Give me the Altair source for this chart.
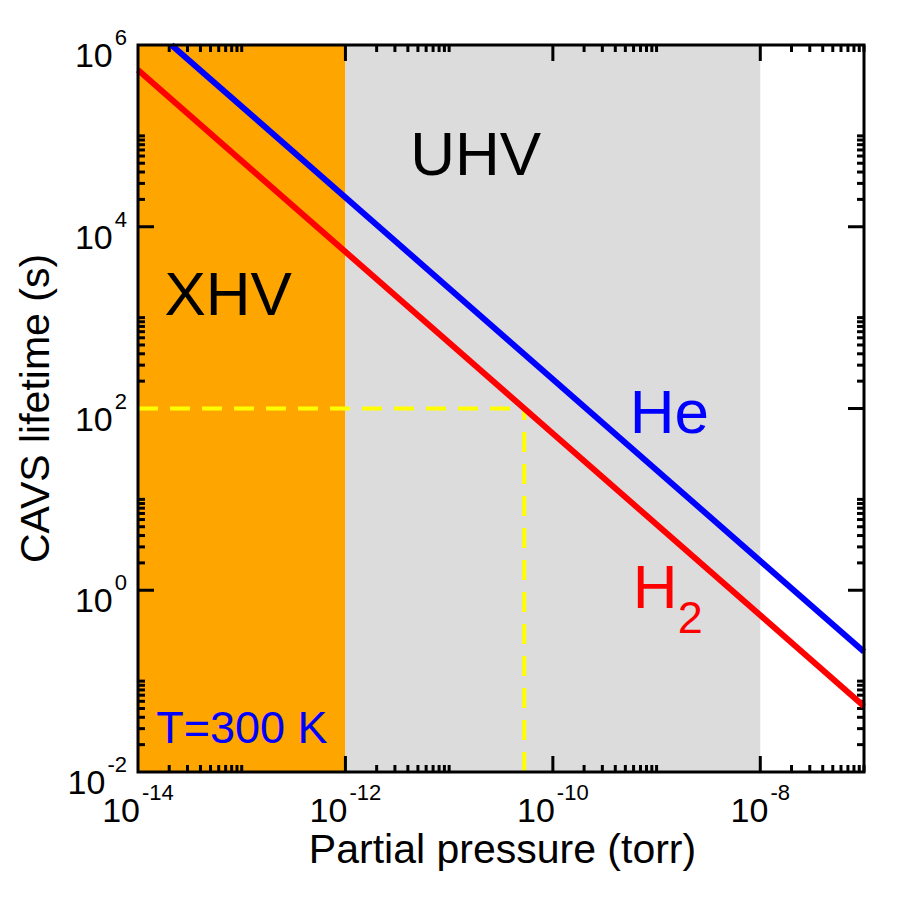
import altair as alt
import pandas as pd

FONT = "Liberation Sans"
W, H = 726, 727

# ---- data ----
p_domain = [1e-14, 1e-7]
tau_domain = [1e-2, 1e6]

he_p = [2.1e-14, 1e-7]
he_tau = [1e6, 0.21]
h2_p = [1e-14, 1e-7]
h2_tau = [5.3e5, 0.053]

xhv_range = [1e-14, 1e-12]
uhv_range = [1e-12, 1e-8]

cross_p = 5.3e-11
cross_tau = 100.0

x_major = [1e-14, 1e-12, 1e-10, 1e-8]
x_exps = ["-14", "-12", "-10", "-8"]
y_major = [1e-2, 1e0, 1e2, 1e4, 1e6]
y_exps = ["-2", "0", "2", "4", "6"]

x_minor_decades = [-14, -12, -10, -8]
y_minor_decades = [-2, 0, 2, 4]
minor_mult = [2, 3, 4, 5, 6, 7, 8, 9, 10]

# ---- scales / axes ----
xscale = alt.Scale(type="log", domain=p_domain, nice=False)
yscale = alt.Scale(type="log", domain=tau_domain, nice=False)
xaxis = alt.Axis(title="Partial pressure (torr)", labels=False, ticks=False, domain=False,
                 grid=False, titleFont=FONT, titleFontSize=41, titleFontWeight="normal",
                 titleColor="black", titleX=364, titleY=90, titleBaseline="alphabetic",
                 titleAlign="center")
yaxis = alt.Axis(title="CAVS lifetime (s)", labels=False, ticks=False, domain=False,
                 grid=False, titleFont=FONT, titleFontSize=41, titleFontWeight="normal",
                 titleColor="black", titleAngle=270, titleX=-90, titleY=363,
                 titleBaseline="alphabetic", titleAlign="center")


def X(f="p"):
    return alt.X(f"{f}:Q", scale=xscale, axis=xaxis)


def Y(f="tau"):
    return alt.Y(f"{f}:Q", scale=yscale, axis=yaxis)


layers = []

# background regions
for rng, col in [(xhv_range, "#FFA500"), (uhv_range, "#DCDCDC")]:
    df = pd.DataFrame({"p": [rng[0]], "p2": [rng[1]], "tau": [tau_domain[0]], "tau2": [tau_domain[1]]})
    layers.append(alt.Chart(df).mark_rect(color=col).encode(
        x=X(), x2="p2:Q", y=Y(), y2="tau2:Q"))

# inward ticks on all four sides
x_minor = [m * 10.0 ** k for k in x_minor_decades for m in minor_mult]
y_minor = [m * 10.0 ** k for k in y_minor_decades for m in minor_mult]
x_maj_in = [v for v in x_major if v > p_domain[0]]
y_maj_in = [v for v in y_major if tau_domain[0] < v < tau_domain[1]]
for vals, L in [(x_maj_in, 16), (x_minor, 7)]:
    df = pd.DataFrame({"p": vals})
    layers.append(alt.Chart(df).mark_rule(color="black", strokeWidth=3).encode(
        x=X(), y=alt.value(H), y2=alt.value(H - L)))
    layers.append(alt.Chart(df).mark_rule(color="black", strokeWidth=3).encode(
        x=X(), y=alt.value(0), y2=alt.value(L)))
for vals, L in [(y_maj_in, 16), (y_minor, 7)]:
    df = pd.DataFrame({"tau": vals})
    layers.append(alt.Chart(df).mark_rule(color="black", strokeWidth=3).encode(
        y=Y(), x=alt.value(0), x2=alt.value(L)))
    layers.append(alt.Chart(df).mark_rule(color="black", strokeWidth=3).encode(
        y=Y(), x=alt.value(W), x2=alt.value(W - L)))

# dashed guide lines
hdf = pd.DataFrame({"p": [p_domain[0]], "p2": [cross_p], "tau": [cross_tau]})
vdf = pd.DataFrame({"p": [cross_p], "tau": [tau_domain[0]], "tau2": [cross_tau]})
layers.append(alt.Chart(hdf).mark_rule(color="#FFFF00", strokeWidth=4, strokeDash=[20, 12]).encode(
    x=X(), x2="p2:Q", y=Y()))
layers.append(alt.Chart(vdf).mark_rule(color="#FFFF00", strokeWidth=4, strokeDash=[20, 12]).encode(
    x=X(), y=Y(), y2="tau2:Q"))

# lifetime lines
lines = pd.DataFrame({
    "p": he_p + h2_p,
    "tau": he_tau + h2_tau,
    "gas": ["He"] * len(he_p) + ["H2"] * len(h2_p),
})
layers.append(alt.Chart(lines).mark_line(strokeWidth=6).encode(
    x=X(), y=Y(),
    color=alt.Color("gas:N", scale=alt.Scale(domain=["He", "H2"], range=["#0000FF", "#FF0000"]),
                    legend=None)))


# annotations (positioned in data coordinates)
def ann(text, p, tau, color, size, align):
    df = pd.DataFrame({"p": [p], "tau": [tau]})
    return alt.Chart(df).mark_text(text=text, align=align, baseline="alphabetic", font=FONT,
                                   fontSize=size, color=color).encode(x=X(), y=Y())


layers.append(ann("UHV", 1.8e-11, 3.7e4, "black", 62, "center"))
layers.append(ann("XHV", 7.4e-14, 1.07e3, "black", 62, "center"))
layers.append(ann("He", 5.5e-10, 54, "#0000FF", 62, "left"))
layers.append(ann("H", 5.9e-10, 0.64, "#FF0000", 62, "left"))
layers.append(ann("2", 1.6e-9, 0.34, "#FF0000", 45, "left"))
layers.append(ann("T=300 K", 1.5e-14, 0.021, "#0000FF", 45, "left"))

# frame
fdf = pd.DataFrame({"p": [p_domain[0]], "p2": [p_domain[1]], "tau": [tau_domain[0]], "tau2": [tau_domain[1]]})
layers.append(alt.Chart(fdf).mark_rect(fillOpacity=0, stroke="black", strokeWidth=3).encode(
    x=X(), x2="p2:Q", y=Y(), y2="tau2:Q"))

# tick labels: "10" with superscript exponent
BIG, SMALL, GAP = 34, 22, 2


def wexp(e):
    return (0.333 * e.count("-") + 0.556 * sum(c.isdigit() for c in e)) * SMALL


w10 = 2 * 0.556 * BIG
for v, e in zip(x_major, x_exps):
    df = pd.DataFrame({"p": [v]})
    off = (w10 - GAP - wexp(e)) / 2
    layers.append(alt.Chart(df).mark_text(text="10", align="right", baseline="alphabetic", dx=off,
                                          font=FONT, fontSize=BIG, color="black").encode(
        x=X(), y=alt.value(H + 50)))
    layers.append(alt.Chart(df).mark_text(text=e, align="left", baseline="alphabetic", dx=off + GAP,
                                          font=FONT, fontSize=SMALL, color="black").encode(
        x=X(), y=alt.value(H + 28)))
for v, e in zip(y_major, y_exps):
    df = pd.DataFrame({"tau": [v]})
    layers.append(alt.Chart(df).mark_text(text="10", align="right", baseline="alphabetic",
                                          dx=-11 - wexp(e) - GAP, dy=22,
                                          font=FONT, fontSize=BIG, color="black").encode(
        x=alt.value(0), y=Y()))
    layers.append(alt.Chart(df).mark_text(text=e, align="right", baseline="alphabetic",
                                          dx=-11, dy=0,
                                          font=FONT, fontSize=SMALL, color="black").encode(
        x=alt.value(0), y=Y()))

chart = alt.layer(*layers).properties(
    width=W, height=H,
    autosize=alt.AutoSizeParams(type="none"),
    padding={"left": 130, "top": 37, "right": 38, "bottom": 100},
    background="white",
).configure_view(stroke="transparent")

chart.save("out.html", embed_options={"renderer": "svg", "actions": False})
